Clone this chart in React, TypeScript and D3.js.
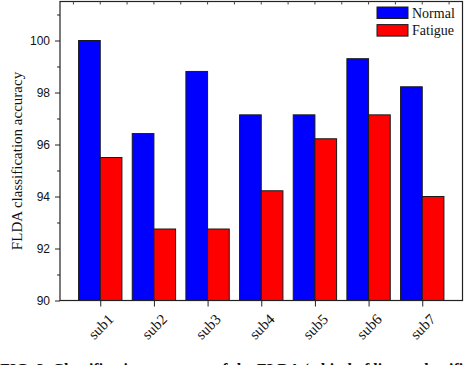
import React, { useEffect, useRef } from "react";
import * as d3 from "d3";

const subjects = ["sub1", "sub2", "sub3", "sub4", "sub5", "sub6", "sub7"];
const seriesNames = ["Normal", "Fatigue"];
const normalAcc = [100, 96.42, 98.81, 97.14, 97.14, 99.3, 98.22];
const fatigueAcc = [95.5, 92.75, 92.75, 94.22, 96.22, 97.14, 94.0];
const seriesColors = ["#0000ff", "#ff0000"];
const majorTicks = [90, 92, 94, 96, 98, 100];
const minorTicks = [91, 93, 95, 97, 99, 101];
const yTitle = "FLDA classification accuracy";
const caption =
  "FIG. 2.  Classification accuracy of the FLDA (a kind of linear classifier) for normal and";

const App = () => {
  const ref = useRef<SVGSVGElement>(null);

  useEffect(() => {
    const width = 474,
      height = 365;
    const margin = { top: 1.5, right: 11.5, bottom: 64.5, left: 60 };
    const innerLeft = margin.left,
      innerRight = width - margin.right,
      innerTop = margin.top,
      innerBottom = height - margin.bottom;

    const svg = d3.select(ref.current);
    svg.selectAll("*").remove();

    // scales
    const x = d3
      .scalePoint<string>()
      .domain(subjects)
      .range([innerLeft, innerRight])
      .padding(0.75);
    const barW = x.step() * 0.404;
    const xSub = d3.scaleBand<string>().domain(seriesNames).range([-barW, barW]);
    const y = d3.scaleLinear().domain([90, 101.5]).range([innerBottom, innerTop]);

    const rows = subjects.map((s, i) => ({
      name: s,
      vals: [normalAcc[i], fatigueAcc[i]],
    }));

    // bars
    const groups = svg
      .append("g")
      .selectAll("g")
      .data(rows)
      .enter()
      .append("g")
      .attr("transform", (d) => `translate(${x(d.name)},0)`);

    groups
      .selectAll("rect")
      .data((d) => d.vals.map((v, j) => ({ key: seriesNames[j], v, j })))
      .enter()
      .append("rect")
      .attr("x", (d) => xSub(d.key)!)
      .attr("y", (d) => y(d.v))
      .attr("width", xSub.bandwidth())
      .attr("height", (d) => y(90) - y(d.v))
      .attr("fill", (d) => seriesColors[d.j])
      .attr("stroke", "#1a1a1a")
      .attr("stroke-width", 1);

    // frame
    svg
      .append("rect")
      .attr("x", innerLeft)
      .attr("y", innerTop)
      .attr("width", innerRight - innerLeft)
      .attr("height", innerBottom - innerTop)
      .attr("fill", "none")
      .attr("stroke", "#222")
      .attr("stroke-width", 1.2);

    // left axis
    const yAxis = svg
      .append("g")
      .attr("transform", `translate(${innerLeft},0)`)
      .call(
        d3
          .axisLeft(y)
          .tickValues(majorTicks)
          .tickSize(5)
          .tickPadding(5)
          .tickFormat(d3.format("d"))
      );
    yAxis.select(".domain").remove();
    yAxis
      .selectAll("text")
      .style("font-family", "'Liberation Sans', Arial, sans-serif")
      .style("font-size", "12px")
      .attr("fill", "#111");
    yAxis.selectAll("line").attr("stroke", "#222");

    const yMinor = svg
      .append("g")
      .attr("transform", `translate(${innerLeft},0)`)
      .call(d3.axisLeft(y).tickValues(minorTicks).tickSize(3).tickFormat(() => ""));
    yMinor.select(".domain").remove();
    yMinor.selectAll("line").attr("stroke", "#222");

    // bottom axis
    const xAxis = svg
      .append("g")
      .attr("transform", `translate(0,${innerBottom})`)
      .call(d3.axisBottom(x).tickSize(6));
    xAxis.select(".domain").remove();
    xAxis.selectAll("line").attr("stroke", "#222");
    xAxis
      .selectAll("text")
      .attr("transform", "translate(10,16) rotate(-45)")
      .attr("y", 0)
      .attr("dy", "0.35em")
      .style("text-anchor", "end")
      .style("font-family", "'Liberation Serif', 'Times New Roman', serif")
      .style("font-size", "15px")
      .attr("fill", "#111");

    // top minor ticks
    const topTicks = d3.range(0, subjects.length * 2 + 1).map(
      (k) => x(subjects[0])! + ((k - 1) * x.step()) / 2
    );
    svg
      .append("g")
      .selectAll("line")
      .data(topTicks.filter((t) => t > innerLeft && t < innerRight))
      .enter()
      .append("line")
      .attr("x1", (d) => d)
      .attr("x2", (d) => d)
      .attr("y1", innerTop)
      .attr("y2", innerTop + 3)
      .attr("stroke", "#444");

    // y title
    svg
      .append("text")
      .attr("transform", `translate(22,${(innerTop + innerBottom) / 2 + 10}) rotate(-90)`)
      .attr("text-anchor", "middle")
      .style("font-family", "'Liberation Serif', 'Times New Roman', serif")
      .style("font-size", "15px")
      .attr("fill", "#111")
      .text(yTitle);

    // legend
    const legend = svg.append("g").attr("transform", "translate(377,7)");
    seriesNames.forEach((name, i) => {
      const g = legend.append("g").attr("transform", `translate(0,${i * 17.6})`);
      g.append("rect")
        .attr("width", 31)
        .attr("height", 11.5)
        .attr("fill", seriesColors[i])
        .attr("stroke", "#1a1a1a")
        .attr("stroke-width", 1);
      g.append("text")
        .attr("x", 35)
        .attr("y", 10.5)
        .style("font-family", "'Liberation Serif', 'Times New Roman', serif")
        .style("font-size", "14px")
        .attr("fill", "#111")
        .text(name);
    });

    // caption (cut off at the bottom edge, as in the source figure)
    svg
      .append("text")
      .attr("x", 0)
      .attr("y", 375)
      .style("font-family", "'Liberation Serif', 'Times New Roman', serif")
      .style("font-size", "16px")
      .style("font-weight", "bold")
      .attr("fill", "#111")
      .text(caption);
  }, []);

  return (
    <svg
      ref={ref}
      width={474}
      height={365}
      style={{ position: "absolute", top: 0, left: 0, background: "#fff" }}
    />
  );
};

export default App;
